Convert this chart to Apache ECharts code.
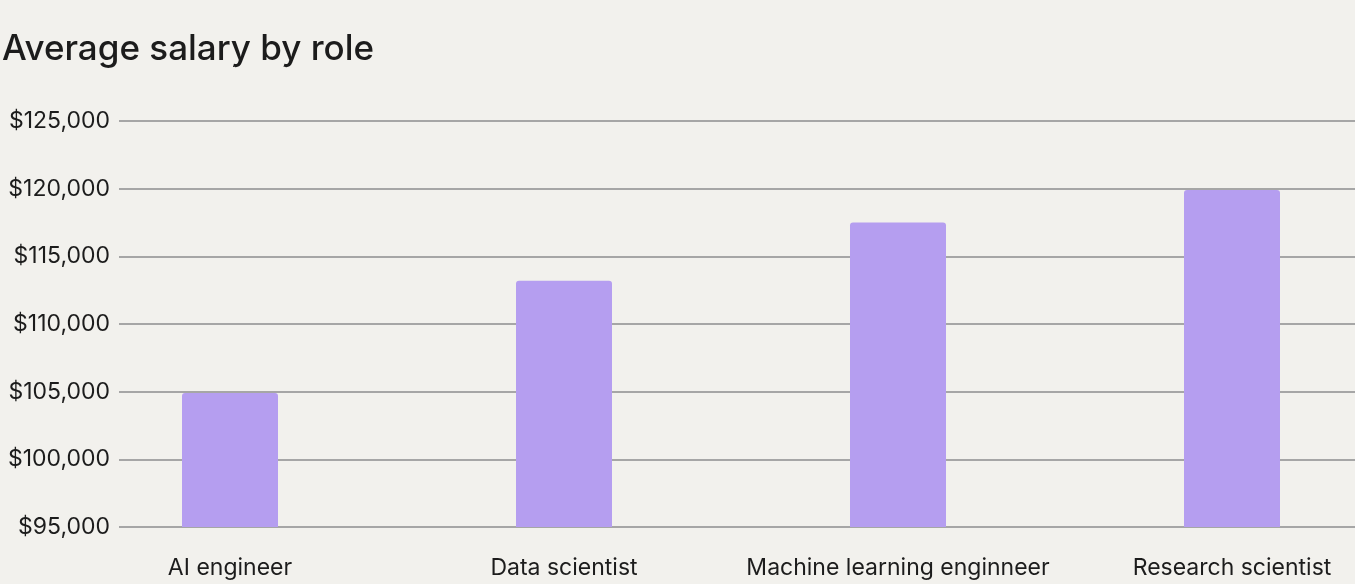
<!DOCTYPE html>
<html>
<head>
<meta charset="utf-8">
<script src="https://cdn.jsdelivr.net/npm/echarts@6/dist/echarts.min.js"></script>
<style>
html,body{margin:0;padding:0;background:#f2f1ed;}
#chart{width:1355px;height:584px;}
</style>
</head>
<body>
<div id="chart"></div>
<script>
const titleText = 'Average salary by role';
const roles = ['AI engineer', 'Data scientist', 'Machine learning enginneer', 'Research scientist'];
const salaries = [104900, 113200, 117500, 119900];
const yMin = 95000, yMax = 125000, yStep = 5000;

const chart = echarts.init(document.getElementById('chart'));
const fontFamily = 'Inter, "Noto Sans", sans-serif';
chart.setOption({
  backgroundColor: '#f2f1ed',
  animation: false,
  title: {
    text: titleText, left: -3, top: 27,
    textStyle: {fontFamily, fontSize: 35, fontWeight: 500, color: '#1c1c1c'}
  },
  grid: [
    {left: 119, right: 0, top: 121, bottom: 57, outerBoundsMode: 'none'},
    {left: 63, width: 1336, top: 121, bottom: 57, outerBoundsMode: 'none'}
  ],
  xAxis: [
    {gridIndex: 0, type: 'category', data: roles, show: false},
    {gridIndex: 1, type: 'category', data: roles,
     axisLine: {show: false}, axisTick: {show: false},
     axisLabel: {interval: 0, margin: 30, fontFamily, fontSize: 23, color: '#1c1c1c'}}
  ],
  yAxis: [
    {gridIndex: 0, type: 'value', min: yMin, max: yMax, interval: yStep,
     axisLine: {show: false}, axisTick: {show: false},
     axisLabel: {margin: 9, fontFamily, fontSize: 23, color: '#1c1c1c',
       formatter: v => '$' + v.toLocaleString('en-US')},
     splitLine: {lineStyle: {color: '#a6a6a6', width: 2}}},
    {gridIndex: 1, type: 'value', min: yMin, max: yMax, interval: yStep, show: false,
     splitLine: {show: false}}
  ],
  series: [{
    type: 'bar', xAxisIndex: 1, yAxisIndex: 1, data: salaries,
    barWidth: 96,
    itemStyle: {color: '#b59ef0', borderRadius: [3, 3, 0, 0]}
  }]
});
</script>
</body>
</html>
